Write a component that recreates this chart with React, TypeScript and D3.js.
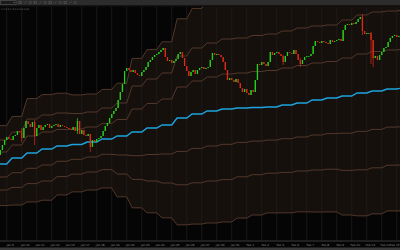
import React from "react";
import * as d3 from "d3";

const W = 400;
const H = 250;

// intraday closes (open = previous close)
const firstOpen = 2185;
const closes = [
  2190, 2195, 2200, 2203, 2201, 2200, 2204, 2205, 2209, 2208,
  2202, 2212, 2219, 2216, 2213, 2218, 2204, 2212, 2215, 2210,
  2213, 2215, 2216, 2212, 2214, 2215, 2216, 2213, 2215, 2214,
  2213, 2212, 2211, 2210, 2213, 2209, 2219, 2206, 2210, 2205,
  2204, 2206, 2193, 2200, 2198, 2201, 2202, 2204, 2209, 2214,
  2217, 2222, 2226, 2229, 2232, 2240, 2248, 2256, 2269, 2272,
  2270, 2268, 2270, 2267, 2265, 2264, 2268, 2270, 2273, 2278,
  2280, 2283, 2285, 2286, 2288, 2290, 2292, 2283, 2279, 2280,
  2277, 2279, 2281, 2286, 2288, 2282, 2274, 2269, 2264, 2268,
  2270, 2266, 2270, 2272, 2273, 2271, 2272, 2273, 2280, 2287,
  2285, 2286, 2285, 2283, 2278, 2270, 2260, 2262, 2260, 2258,
  2261, 2257, 2252, 2248, 2251, 2247, 2245, 2250, 2248, 2260,
  2276, 2275, 2278, 2276, 2274, 2278, 2288, 2285, 2287, 2288,
  2286, 2284, 2278, 2284, 2288, 2287, 2286, 2290, 2286, 2280,
  2276, 2280, 2283, 2284, 2284, 2286, 2294, 2299, 2298, 2297,
  2299, 2298, 2297, 2296, 2300, 2298, 2299, 2300, 2301, 2299,
  2310, 2315, 2316, 2315, 2317, 2316, 2318, 2321, 2323, 2309,
  2306, 2307, 2307, 2300, 2282, 2284, 2280, 2285, 2288, 2292,
  2293, 2298, 2302, 2304, 2305, 2303, 2304,
];

// notable wicks
const spikeAt = [10, 16, 36, 42, 132, 140, 169, 173, 174];
const spikeLow = [2198, 2195, 2206, 2188, 2275, 2273, 2305, 2276, 2273];
const spikeHigh = [2212, 2220, 2222, 2206, 2285, 2282, 2326, 2308, 2290];

const dayLabels = [
  "Jan 9", "Jan 10", "Jan 11", "Jan 12", "Jan 13", "Jan 17", "Jan 18", "Jan 19",
  "Jan 20", "Jan 23", "Jan 24", "Jan 25", "Jan 26", "Jan 27", "Jan 30", "Jan 31",
  "Feb 1", "Feb 2", "Feb 3", "Feb 6", "Feb 7", "Feb 8", "Feb 9", "Feb 10",
  "Feb 13", "Feb 14", "Feb 15",
];

// daily envelope: centre and unit widths (segment 0 = partial day before first label)
const centerLine = [
  2176, 2182, 2187, 2191, 2194, 2195.5, 2198, 2201, 2204, 2208, 2212, 2215, 2222, 2226,
  2229, 2231, 2232, 2232.5, 2233, 2235, 2237, 2240, 2242, 2244, 2247, 2249, 2251, 2252,
];
const upperWidth = [
  12, 13, 17, 17, 16.5, 15.5, 15, 15.5, 16.5, 23, 24.5, 26, 31, 33,
  34, 35, 35, 36, 36.5, 37, 37.5, 37, 36.5, 38, 39, 39.5, 39, 39,
];
const lowerWidth = [
  13, 14.7, 15.3, 16, 15.3, 14.8, 15, 15.3, 19, 23.7, 26.5, 29, 33.4, 34.4,
  35, 35.3, 34.4, 33.6, 33.1, 33.7, 34, 35, 35.6, 37.2, 38.4, 38.4, 38.1, 38.4,
];
const bandMultipliers = [1, 2, 3.2];

const barsPerDay = 7;
const firstDayBar = 3;
const rampBars = 2.5;

export default function App() {
  const n = closes.length;
  const x = d3.scaleLinear().domain([0, n]).range([0.3, 0.3 + (n * 15) / 7]);
  const y = d3.scaleLinear().domain([2100, 2334]).range([240, 6]);

  const plotTop = 6.5;
  const plotBottom = 240.5;

  // step-like points for a daily series
  const stepPoints = (vals: number[]) => {
    const pts: [number, number][] = [];
    vals.forEach((v, s) => {
      const start = s === 0 ? -3 : firstDayBar + (s - 1) * barsPerDay + rampBars;
      const end = firstDayBar + s * barsPerDay;
      pts.push([start, v], [end, v]);
    });
    return pts;
  };

  const lineGen = d3
    .line<[number, number]>()
    .x((d) => x(d[0]))
    .y((d) => y(d[1]));

  const centerPts = stepPoints(centerLine);
  const bands: [number, number][][] = [];
  bandMultipliers.forEach((m) => {
    bands.push(stepPoints(centerLine.map((c, i) => c + m * upperWidth[i])));
    bands.push(stepPoints(centerLine.map((c, i) => c - m * lowerWidth[i])));
  });
  const outerM = bandMultipliers[bandMultipliers.length - 1];
  const upperOuter = stepPoints(centerLine.map((c, i) => c + outerM * upperWidth[i]));
  const lowerOuter = stepPoints(centerLine.map((c, i) => c - outerM * lowerWidth[i]));
  const fillArea = d3
    .area<number>()
    .x((i) => x(upperOuter[i][0]))
    .y0((i) => y(lowerOuter[i][1]))
    .y1((i) => y(upperOuter[i][1]));

  const candles = closes.map((c, i) => {
    const o = i === 0 ? firstOpen : closes[i - 1];
    const k = spikeAt.indexOf(i);
    const hi = k >= 0 ? Math.max(spikeHigh[k], o, c) : Math.max(o, c);
    const lo = k >= 0 ? Math.min(spikeLow[k], o, c) : Math.min(o, c);
    return { i, o, c, hi, lo };
  });

  const gridBars = dayLabels.map((_, k) => firstDayBar + k * barsPerDay);
  const iconXs = d3.range(12).map((k) => 19 + k * 5);

  return (
    <svg
      width={W}
      height={H}
      viewBox={`0 0 ${W} ${H}`}
      style={{ position: "absolute", left: 0, top: 0, background: "#050505" }}
    >
      <defs>
        <clipPath id="plot">
          <rect x={0} y={plotTop} width={W} height={plotBottom - plotTop} />
        </clipPath>
      </defs>
      <rect x={0} y={0} width={W} height={H} fill="#050505" />
      <g clipPath="url(#plot)">
        <path d={fillArea(d3.range(upperOuter.length)) || ""} fill="#16100d" />
        {gridBars.map((b) => (
          <line
            key={b}
            x1={x(b)}
            x2={x(b)}
            y1={plotTop}
            y2={plotBottom}
            stroke="#1e1e1e"
            strokeWidth={0.8}
          />
        ))}
        {bands.map((pts, k) => (
          <path key={k} d={lineGen(pts) || ""} fill="none" stroke="#5a3c2e" strokeWidth={0.9} />
        ))}
        <path d={lineGen(centerPts) || ""} fill="none" stroke="#1ea3dd" strokeWidth={1.4} />
        {candles.map((d) => {
          const up = d.c >= d.o;
          const col = up ? "#24d11c" : "#e02a18";
          const top = y(Math.max(d.o, d.c));
          const bot = y(Math.min(d.o, d.c));
          return (
            <g key={d.i}>
              <line x1={x(d.i)} x2={x(d.i)} y1={y(d.hi)} y2={y(d.lo)} stroke={col} strokeWidth={0.7} />
              <rect
                x={x(d.i) - 0.65}
                y={top}
                width={1.3}
                height={Math.max(0.9, bot - top)}
                fill={col}
              />
            </g>
          );
        })}
      </g>
      {/* time axis */}
      <line x1={0} x2={W} y1={241} y2={241} stroke="#4a4a4a" strokeWidth={0.8} />
      {gridBars.map((b, k) => {
        const last = k === gridBars.length - 1;
        return (
          <text
            key={b}
            x={last ? 399.5 : x(b) + 3.5}
            y={245.6}
            fontSize={2.8}
            fontFamily="DejaVu Sans, sans-serif"
            fill="#8c8c8c"
            textAnchor={last ? "end" : "middle"}
          >
            {dayLabels[k]}
          </text>
        );
      })}
      <rect x={0} y={247.5} width={W} height={2.5} fill="#3a3a3a" />
      {/* toolbar */}
      <rect x={0} y={0} width={W} height={5} fill="#2c2c2c" />
      <rect x={0} y={5} width={W} height={1.5} fill="#141414" />
      <rect x={0.5} y={0.8} width={15.5} height={3.4} fill="#1b1b1b" stroke="#6a6a6a" strokeWidth={0.4} />
      <path d="M13.2,2 L15,2 L14.1,3.1 Z" fill="#888" />
      {iconXs.map((ix, k) => (
        <g key={k} fill="#6e6e6e" stroke="#6e6e6e" strokeWidth={0.4}>
          {k % 3 === 0 ? (
            <rect x={ix} y={1.2} width={2.6} height={2.6} fill="none" />
          ) : k % 3 === 1 ? (
            <line x1={ix} y1={3.8} x2={ix + 2.6} y2={1.2} />
          ) : (
            <circle cx={ix + 1.3} cy={2.5} r={1.1} fill="none" />
          )}
        </g>
      ))}
      <text x={1} y={10} fontSize={2.4} fontFamily="DejaVu Sans, sans-serif" fill="#7a7a7a">
        1.1.2.3 1.5.0.0 0.0 0.00
      </text>
    </svg>
  );
}
